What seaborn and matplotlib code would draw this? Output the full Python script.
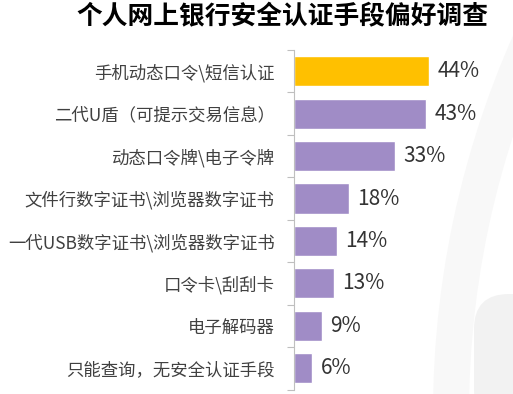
import matplotlib
matplotlib.use("Agg")
import matplotlib.pyplot as plt
import seaborn as sns
from matplotlib.patches import Wedge, FancyBboxPatch
from matplotlib.ticker import FixedLocator

categories = ["手机动态口令\\短信认证", "二代U盾（可提示交易信息）", "动态口令牌\\电子令牌",
              "文件行数字证书\\浏览器数字证书", "一代USB数字证书\\浏览器数字证书",
              "口令卡\\刮刮卡", "电子解码器", "只能查询，无安全认证手段"]
values = [44, 43, 33, 18, 14, 13, 9, 6]
colors = ["#FFC000"] + ["#A08CC6"] * 7

sns.set_theme(style="white")
plt.rcParams["font.family"] = ["Noto Sans CJK SC", "DejaVu Sans"]

fig = plt.figure(figsize=(5.13, 3.94), dpi=100)

# faint background decoration
bg = fig.add_axes([0, 0, 1, 1], zorder=-1)
bg.set_xlim(0, 513)
bg.set_ylim(394, 0)
bg.axis("off")
bg.add_patch(Wedge((1368, 414), 935, 178, 206, width=36, color="#F8F8F8", lw=0))
bg.add_patch(FancyBboxPatch((474, 294), 90, 130, boxstyle="round,pad=0,rounding_size=35",
                            color="#F2F2F2", lw=0))

ax = fig.add_axes([294 / 513, 4.5 / 394, 219 / 513, 339.5 / 394])
ax.patch.set_alpha(0)
sns.barplot(x=values, y=categories, hue=categories, palette=colors, legend=False,
            width=0.71, saturation=1, ax=ax)

ax.set_xlim(0, 71.3)
ax.set_ylim(len(categories) - 0.5, -0.5)
ax.set_xlabel("")
ax.set_ylabel("")
ax.set_xticks([])

for c in ax.containers:
    ax.bar_label(c, fmt="%d%%", padding=6, fontsize=15, color="#333333")

ax.tick_params(axis="y", which="major", length=0, pad=14, labelsize=12.5, labelcolor="#404040")
ax.yaxis.set_minor_locator(FixedLocator([i - 0.5 for i in range(len(categories) + 1)]))
ax.tick_params(axis="y", which="minor", length=5, width=0.8, color="#BFBFBF", left=True)

sns.despine(ax=ax, top=True, right=True, bottom=True)
ax.spines["left"].set_color("#BFBFBF")
ax.spines["left"].set_linewidth(0.8)

fig.text(0.55, 0.957, "个人网上银行安全认证手段偏好调查", ha="center", va="center",
         fontsize=18.5, fontweight="bold", color="black")

fig.savefig("out.png", dpi=100)
